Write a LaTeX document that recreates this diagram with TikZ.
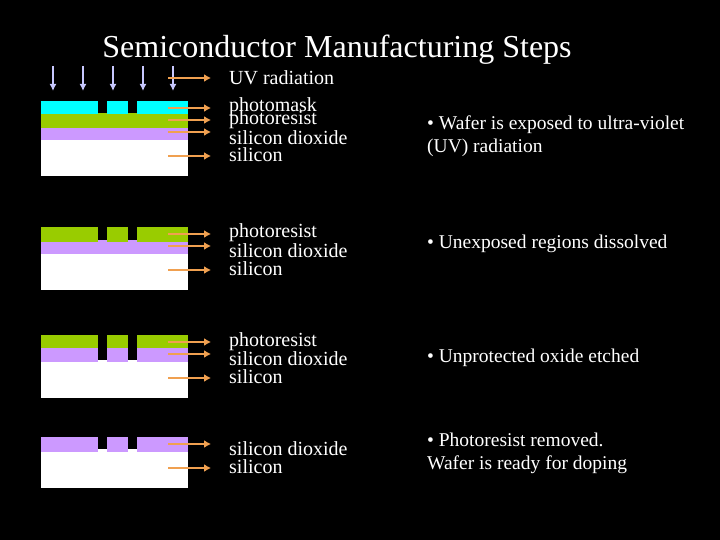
\documentclass[tikz,border=0pt]{standalone}
\usepackage{fontspec}
\setmainfont{Liberation Serif}
\usetikzlibrary{arrows.meta}
\definecolor{cy}{RGB}{0,255,255}
\definecolor{gr}{RGB}{153,204,0}
\definecolor{pu}{RGB}{204,153,255}
\definecolor{og}{RGB}{240,160,80}
\definecolor{uv}{RGB}{200,200,255}
\begin{document}
\begin{tikzpicture}[x=1pt,y=-1pt,
 lbl/.style={anchor=west,text=white,font=\fontsize{20}{20}\selectfont,inner sep=0pt},
 desc/.style={anchor=west,text=white,font=\fontsize{19.5}{23}\selectfont,inner sep=0pt,align=left},
 oa/.style={draw=og,line width=2.5pt,-{Latex[length=7pt,width=8pt]}},
 ua/.style={draw=uv,line width=1.5pt,-{Latex[length=7pt,width=7pt]}}]
\fill[black] (0,0) rectangle (720,540);
\node[text=white,font=\fontsize{32}{32}\selectfont] (title) at (337,50) {Semiconductor Manufacturing Steps};
% UV arrows
\foreach \x [count=\i] in {53,83,113,143,173}{
 \coordinate (u\i) at (\x,66); \coordinate (v\i) at (\x,91);
 \draw[ua] (u\i) -- (v\i);}
% stage 1
\fill[white] (41,140) rectangle (188,176);
\fill[pu] (41,128) rectangle (188,140);
\fill[gr] (41,113) rectangle (188,128);
\fill[cy] (41,101) rectangle (98,114);
\fill[cy] (107,101) rectangle (128,114);
\fill[cy] (137,101) rectangle (188,114);
% stage 2
\fill[white] (41,254) rectangle (188,290);
\fill[pu] (41,240) rectangle (188,254);
\fill[gr] (41,227) rectangle (98,242);
\fill[gr] (107,227) rectangle (128,242);
\fill[gr] (137,227) rectangle (188,242);
% stage 3
\fill[white] (41,360) rectangle (188,398);
\foreach \a/\b in {41/98,107/128,137/188}{
 \fill[pu] (\a,335) rectangle (\b,362);
 \fill[gr] (\a,335) rectangle (\b,348);}
% stage 4
\fill[white] (41,449) rectangle (188,488);
\foreach \a/\b in {41/98,107/128,137/188}{
 \fill[pu] (\a,437) rectangle (\b,452);}
% labels
\node[lbl] (l0) at (229,78) {UV radiation};
\node[lbl] (l1) at (229,107) {photomask};
\node[lbl] (l2) at (229,120) {photoresist};
\node[lbl] (l3) at (229,138) {silicon dioxide};
\node[lbl] (l4) at (229,155) {silicon};
\node[lbl] (m1) at (229,233) {photoresist};
\node[lbl] (m2) at (229,251) {silicon dioxide};
\node[lbl] (m3) at (229,269) {silicon};
\node[lbl] (n1) at (229,342) {photoresist};
\node[lbl] (n2) at (229,359) {silicon dioxide};
\node[lbl] (n3) at (229,377) {silicon};
\node[lbl] (p1) at (229,449) {silicon dioxide};
\node[lbl] (p2) at (229,467) {silicon};
% orange arrows
\foreach \y [count=\i] in {78,108,120,132,156,234,246,270,342,354,378,444,468}{
 \coordinate (s\i) at (168,\y); \coordinate (t\i) at (211,\y);
 \draw[oa] (s\i) -- (t\i);}
% descriptions
\node[desc] (d1) at (427,136) {• Wafer is exposed to ultra-violet\\(UV) radiation};
\node[desc] (d2) at (427,244) {• Unexposed regions dissolved};
\node[desc] (d3) at (427,358) {• Unprotected oxide etched};
\node[desc] (d4) at (427,453) {• Photoresist removed.\\Wafer is ready for doping};
\end{tikzpicture}
\end{document}
